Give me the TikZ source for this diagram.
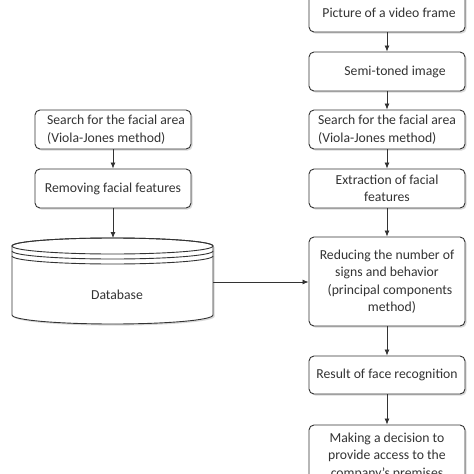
\documentclass[tikz,border=0pt]{standalone}
\usepackage{fontspec}
\setmainfont{Carlito}
\usetikzlibrary{arrows.meta}
\usetikzlibrary{shadows}

\definecolor{inkgray}{HTML}{333333}

\tikzset{
	stepbox/.style={draw=inkgray, line width=0.9pt, rounded corners=5pt, fill=white,
		minimum width=156pt, inner sep=3pt, align=center, text=inkgray,
		font=\fontsize{13.7}{17.5}\selectfont,
		drop shadow={shadow xshift=1.6pt, shadow yshift=-1.6pt, opacity=0.3}},
	flow/.style={-{Latex[length=6pt,width=5pt]}, inkgray, line width=0.8pt},
	dbline/.style={draw=inkgray, line width=0.9pt}
}

\begin{document}
\begin{tikzpicture}[x=1pt,y=-1pt]
	\clip (0,0) rectangle (474,474);
	\fill[white] (0,0) rectangle (474,474);

	% right column
	\node[stepbox, minimum height=39pt] (frame) at (387,12.5) {\hspace{4pt}Picture of a video frame};
	\node[stepbox, minimum height=39pt] (semi) at (387,71.5) {\hspace{16pt}Semi-toned image};
	\node[stepbox, minimum height=39pt, align=left] (searchR) at (387,129.5) {Search for the facial area\\(Viola-Jones method)};
	\node[stepbox, minimum height=39pt] (extract) at (387,188.5) {Extraction of facial\hspace{8pt}\\features};
	\node[stepbox, minimum height=89pt] (reduce) at (387,281.5) {Reducing the number of\\signs and behavior\\\hspace{6pt}(principal components\\\hspace{10pt}method)};
	\node[stepbox, minimum height=38pt] (result) at (387,375) {Result of face recognition};
	\node[stepbox, minimum height=62pt] (decide) at (387,456) {Making a decision to\\provide access to the\\company's premises};

	% left column
	\node[stepbox, minimum height=39pt, align=left] (searchL) at (113,129.5) {\hspace{6pt}Search for the facial area\\\hspace{6pt}(Viola-Jones method)};
	\node[stepbox, minimum height=39pt] (remove) at (113,188.5) {Removing facial features};

	% database cylinder
	\draw[dbline, fill=white, drop shadow={shadow xshift=1.6pt, shadow yshift=-1.6pt, opacity=0.3}]
		(12,246) -- (12,315) arc[start angle=180, end angle=0, x radius=100.5, y radius=9] -- (213,246)
		arc[start angle=0, end angle=-180, x radius=100.5, y radius=8] -- cycle;
	\draw[dbline] (112.5,246) ellipse [x radius=100.5, y radius=8];
	\draw[dbline] (12,251) arc[start angle=180, end angle=0, x radius=100.5, y radius=8];
	\draw[dbline] (12,256) arc[start angle=180, end angle=0, x radius=100.5, y radius=8];
	\node[text=inkgray, font=\fontsize{13.7}{17.5}\selectfont] (db) at (117,295) {Database};
	\coordinate (dbtop) at (113,238);
	\coordinate (dbside) at (213,282);

	% connectors
	\draw[flow] (frame) -- (semi);
	\draw[flow] (semi) -- (searchR);
	\draw[flow] (searchR) -- (extract);
	\draw[flow] (extract) -- (reduce);
	\draw[flow] (reduce) -- (result);
	\draw[flow] (result) -- (decide);
	\draw[flow] (searchL) -- (remove);
	\draw[flow] (remove) -- (dbtop);
	\draw[flow] (dbside) -- (reduce.west |- dbside);
\end{tikzpicture}
\end{document}
